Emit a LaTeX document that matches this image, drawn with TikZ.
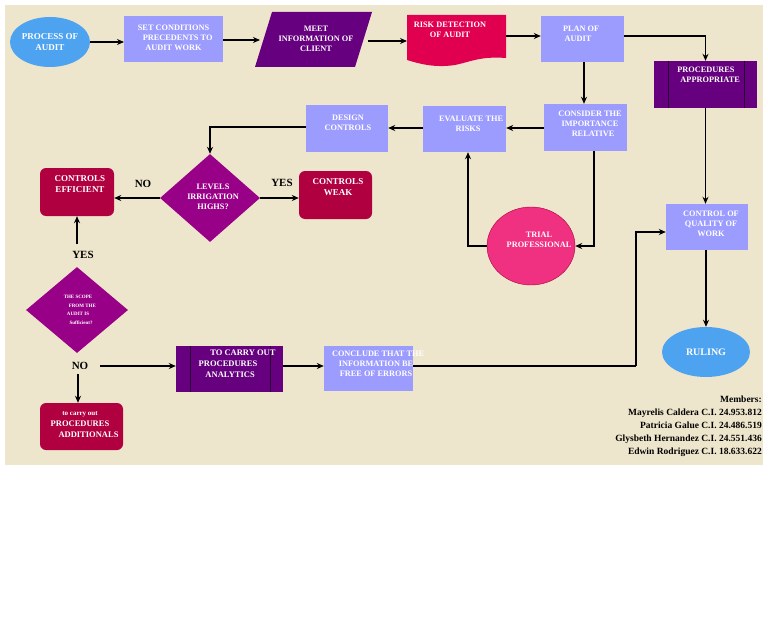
\documentclass[tikz,border=0pt]{standalone}
\usepackage{fontspec}
\setmainfont{Liberation Serif}
\usetikzlibrary{shapes.geometric,shapes.symbols,arrows.meta}
\definecolor{bg}{HTML}{EEE6CC}
\definecolor{lav}{HTML}{9C9CFF}
\definecolor{sky}{HTML}{4DA3F0}
\definecolor{dpur}{HTML}{66007F}
\definecolor{mag}{HTML}{990088}
\definecolor{crim}{HTML}{B0003F}
\definecolor{rred}{HTML}{E0004F}
\definecolor{pink}{HTML}{F03080}
\begin{document}
\begin{tikzpicture}[x=1pt,y=-1pt,
  txt/.style={text=white,font=\fontsize{8.3}{10}\selectfont\bfseries,align=center,inner sep=0},
  box/.style={draw=none},
  arr/.style={-{Stealth[length=7pt,width=6pt]},line width=1.3pt},
  lbl/.style={font=\fontsize{11}{12}\selectfont\bfseries,inner sep=0}]
\useasboundingbox (0,0) rectangle (768,634);
\fill[bg] (5,5) rectangle (763,465);
% shapes
\node[ellipse,fill=sky,minimum width=80,minimum height=50,txt,font=\fontsize{9}{11}\selectfont\bfseries] (pa) at (50,42) {PROCESS OF\\AUDIT\hspace{3em}};
\fill[lav] (124,16) rectangle (223,62); \node[txt] (sc) at (173.5,38) {SET CONDITIONS\\\ \ \ \ PRECEDENTS TO\\AUDIT WORK\hspace{2.5em}};
\coordinate (scw) at (124,42); \coordinate (sce) at (223,40);
\fill[dpur] (272,12) -- (372,12) -- (355,67) -- (255,67) -- cycle;
\node[txt] (mi) at (316,39) {MEET\\INFORMATION OF\\CLIENT};
\coordinate (miw) at (260,40); \coordinate (mie) at (368,41);
\fill[rred] (407,15) -- (506,15) -- (506,58) .. controls (480,56) and (470,62) .. (455,65) .. controls (435,68) and (420,64) .. (407,60) -- cycle;
\node[txt] (rd) at (450,30) {RISK DETECTION\\OF AUDIT};
\coordinate (rdw) at (407,41); \coordinate (rde) at (506,36);
\node[box,fill=lav,minimum width=83,minimum height=46,inner sep=0] (pl) at (582.5,39) {};
\node[txt] at (578,34) {\ \ \ PLAN OF\\AUDIT\hspace{1.5em}};
\node[box,fill=dpur,minimum width=103,minimum height=47,inner sep=0] (pr) at (705.5,84.5) {};
\draw[black!60!dpur,line width=0.6pt] (668,61) -- (668,108) (744,61) -- (744,108);
\node[txt] at (706,75) {PROCEDURES\hspace{1.5em}\\\ \ \ \ APPROPRIATE};
\node[box,fill=lav,minimum width=83,minimum height=47,inner sep=0] (ci) at (585.5,127.5) {};
\node[txt] at (590,124) {CONSIDER THE\\IMPORTANCE\\\ \ \ RELATIVE};
\node[box,fill=lav,minimum width=83,minimum height=46,inner sep=0] (ev) at (464.5,129) {};
\node[txt] at (468,124) {\ \ \ EVALUATE THE\\RISKS\hspace{2em}};
\node[box,fill=lav,minimum width=82,minimum height=47,inner sep=0] (dc) at (347,128.5) {};
\node[txt] at (348,123) {DESIGN\\CONTROLS};
\node[diamond,fill=mag,minimum width=100,minimum height=88,inner sep=0] (lv) at (210,198) {};
\node[txt] at (213,197) {LEVELS\\IRRIGATION\\HIGHS?};
\node[rounded corners=6,fill=crim,minimum width=74,minimum height=48,inner sep=0] (ef) at (77,192) {};
\node[txt,font=\fontsize{9}{11}\selectfont\bfseries] at (80,184) {CONTROLS\\EFFICIENT};
\node[rounded corners=6,fill=crim,minimum width=73,minimum height=48,inner sep=0] (wk) at (335.5,195) {};
\node[txt,font=\fontsize{9}{11}\selectfont\bfseries] at (338,187) {CONTROLS\\WEAK};
\node[ellipse,fill=pink,draw=crim,line width=0.4pt,minimum width=88,minimum height=78,inner sep=0] (tr) at (531,246) {};
\node[txt] at (539,240) {TRIAL\\PROFESSIONAL};
\node[box,fill=lav,minimum width=82,minimum height=46,inner sep=0] (cq) at (707,227) {};
\node[txt] at (711,224) {CONTROL OF\\QUALITY OF\\WORK};
\node[ellipse,fill=sky,minimum width=88,minimum height=50,txt,font=\fontsize{10}{11}\selectfont\bfseries] (ru) at (706,352) {RULING};
\node[diamond,fill=mag,minimum width=102,minimum height=86,inner sep=0] (sd) at (77,310) {};
\node[txt,font=\fontsize{5}{8.5}\selectfont\bfseries] at (78,310) {THE SCOPE\\\ \ \ \ \ \ \ FROM THE\\AUDIT IS\hspace{1em}\\\ \ \ \ \ Sufficient?};
\node[lbl] (yes2) at (83,255) {YES};
\node[lbl] (no2) at (80,366) {NO};
\node[rounded corners=6,fill=crim,minimum width=83,minimum height=47,inner sep=0] (ad) at (81.5,426.5) {};
\node[txt,font=\fontsize{8.5}{11}\selectfont\bfseries] at (80,425) {\fontsize{7}{8}\selectfont to carry out\hspace{3em}\\PROCEDURES\hspace{1em}\\\hspace{2em}ADDITIONALS};
\node[box,fill=dpur,minimum width=107,minimum height=46,inner sep=0] (an) at (229.5,369) {};
\draw[black!60!dpur,line width=0.6pt] (190,346) -- (190,392) (270,346) -- (270,392);
\node[txt,font=\fontsize{8.5}{11}\selectfont\bfseries] at (228,364) {\hspace{3.5em}TO CARRY OUT\\PROCEDURES\hspace{2.5em}\\\hspace{0.5em}ANALYTICS};
\node[box,fill=lav,minimum width=89,minimum height=45,inner sep=0] (co) at (368.5,368.5) {};
\node[txt] at (376,364) {\ \ CONCLUDE THAT THE\\INFORMATION BE\hspace{1em}\\FREE OF ERRORS\hspace{0.5em}};
% labels
\node[lbl] at (143,184) {NO};
\node[lbl] at (282,183) {YES};
% connectors
\draw[arr] (pa) -- (scw);
\draw[arr] (sce) -- (miw);
\draw[arr] (mie) -- (rdw);
\draw[arr] (rde) -- (pl.west |- rde);
\draw[arr] (pl.east |- rde) -| (pr.north);
\draw[arr] (pl.south -| 584,0) -- (ci.north -| 584,0);
\draw[arr] (ci.west |- 0,128) -- (ev.east |- 0,128);
\draw[arr] (ev.west |- 0,128) -- (dc.east |- 0,128);
\draw[arr] (dc.west |- 0,127) -| (lv.north);
\draw[arr] (lv.west) -- (ef.east |- lv.west);
\draw[arr] (lv.east) -- (wk.west |- lv.east);
\draw[arr] (ci.south -| 594,0) |- (tr.east);
\draw[arr] (tr.west) -| (ev.south -| 468,0);
\draw[arr] (pr.south) -- (cq.north -| pr.south);
\draw[arr] (cq.south -| 706,0) -- (ru.north);
\draw[arr] (yes2.north -| 77,0) ++(0,-7) -- (ef.south -| 77,0);
\draw[arr] (100,366) -- (an.west |- 0,366);
\draw[arr] (no2.south) ++(-2,4) -- (ad.north -| 78,0);
\draw[arr] (an.east |- 0,366) -- (co.west |- 0,366);
\draw[line width=1.3pt] (co.east |- 0,366) -- (636,366);
\draw[arr] (636,366) |- (cq.west |- 0,232);
% members
\node[font=\fontsize{9.5}{13}\selectfont\bfseries,align=right,anchor=north east,inner sep=0] at (762,396) {Members:\\Mayrelis Caldera C.I. 24.953.812\\Patricia Galue C.I. 24.486.519\\Glysbeth Hernandez C.I. 24.551.436\\Edwin Rodriguez C.I. 18.633.622};
\end{tikzpicture}
\end{document}
